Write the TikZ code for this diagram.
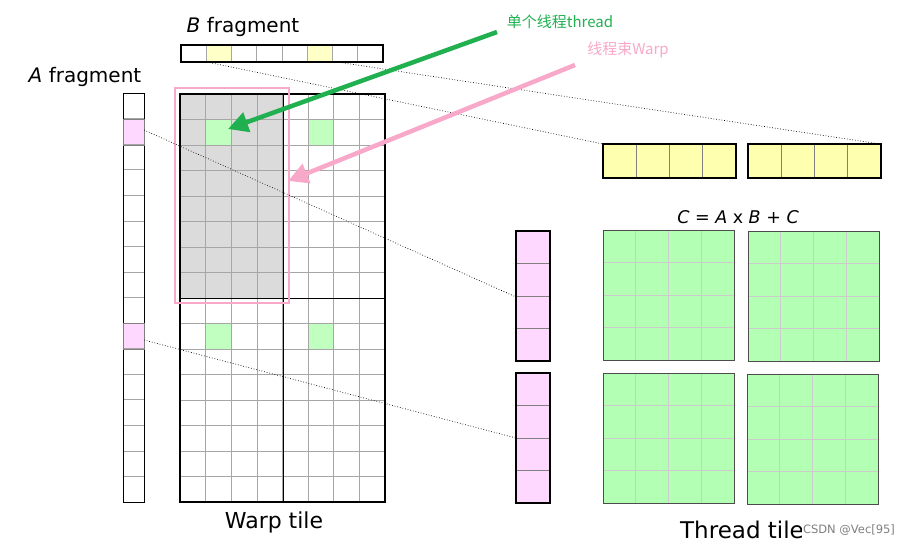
\documentclass[tikz,border=0pt]{standalone}
\usepackage{fontspec}
\usetikzlibrary{arrows.meta}
\setmainfont{DejaVu Sans}
\newfontfamily\cjk{Noto Sans CJK SC}
\begin{document}
\begin{tikzpicture}[x=1pt,y=-1pt,
  cellline/.style={draw=gray!70,line width=0.6pt},
  lbl/.style={inner sep=0pt,font=\fontsize{20}{22}\selectfont},
  dots/.style={dotted,line width=0.7pt},
  bigarrow/.style={line width=4.5pt,-{Triangle[length=20pt,width=20pt]}}]
\useasboundingbox (0,0) rectangle (909,547);
\definecolor{yel}{HTML}{FFFFC8}
\definecolor{yel2}{HTML}{FFFFB0}
\definecolor{pnk}{HTML}{FFD8FF}
\definecolor{grn}{HTML}{C0FFC0}
\definecolor{grn2}{HTML}{B3FFB3}
\definecolor{pinkline}{HTML}{F8A8C8}
\definecolor{grline}{HTML}{20B050}
% B fragment
\fill[yel] (206.25,45) rectangle (231.5,62);
\fill[yel] (307.25,45) rectangle (332.5,62);
\foreach \i in {1,...,7} \draw[cellline] (181+\i*25.25,45) -- (181+\i*25.25,62);
\draw[line width=1.2pt] (181,45) rectangle (383,62);
\node[lbl] (bl) at (243,27) {\textit{B} fragment};
% A fragment
\fill[pnk] (123,119.6) rectangle (144,145.2);
\fill[pnk] (123,323.4) rectangle (144,349);
\foreach \i in {1,...,15} \draw[cellline] (123,93+\i*25.56) -- (144,93+\i*25.56);
\draw[line width=1pt] (123,93) rectangle (144,502);
\draw[gray,line width=0.8pt] (123,119.6) rectangle (144,145.2);
\draw[gray,line width=0.8pt] (123,323.4) rectangle (144,349);
\node[lbl] (al) at (85,77) {\textit{A} fragment};
% Warp tile
\fill[gray!28] (180,94) rectangle (283,298);
\foreach \c/\r in {1/1,5/1,1/9,5/9}
  \fill[grn] (180+\c*25.6,94+\r*25.5) rectangle (180+\c*25.6+25.6,94+\r*25.5+25.5);
\foreach \i in {1,...,7} \draw[cellline] (180+\i*25.6,94) -- (180+\i*25.6,502);
\foreach \i in {1,...,15} \draw[cellline] (180,94+\i*25.5) -- (385,94+\i*25.5);
\draw[line width=1pt] (283,94) -- (283,502) (180,298) -- (385,298);
\draw[line width=1.5pt] (180,94) rectangle (385,502);
\draw[pinkline,line width=1.2pt] (175,88) rectangle (289,303);
\node[lbl,font=\fontsize{22}{24}\selectfont] (wt) at (274,522) {Warp tile};
% dotted connectors
\coordinate (b1) at (207,62); \coordinate (b2) at (337,62);
\coordinate (y1) at (603,144); \coordinate (y2) at (880,144);
\coordinate (a1) at (144,130); \coordinate (a2) at (144,340);
\coordinate (p1) at (516,297); \coordinate (p2) at (516,438);
\draw[dots] (b1) -- (y1); \draw[dots] (b2) -- (y2);
\draw[dots] (a1) -- (p1); \draw[dots] (a2) -- (p2);
% yellow strips
\foreach \x in {603,748}{
  \fill[yel2] (\x,144) rectangle (\x+133,178);
  \foreach \i in {1,2,3} \draw[gray,line width=1pt] (\x+\i*33.25,144) -- (\x+\i*33.25,178);
  \draw[line width=1.5pt] (\x,144) rectangle (\x+133,178);}
% pink columns
\foreach \y in {231,373}{
  \fill[pnk] (516,\y) rectangle (550,\y+130);
  \foreach \i in {1,2,3} \draw[gray,line width=1pt] (516,\y+\i*32.5) -- (550,\y+\i*32.5);
  \draw[line width=1.5pt] (516,\y) rectangle (550,\y+130);}
% green grids
\foreach \x/\y in {603/230,748/231,603/373,747/374}{
  \fill[grn2] (\x,\y) rectangle (\x+131,\y+130);
  \foreach \i in {1,2,3} \draw[gray!40,line width=0.8pt] (\x+\i*32.75,\y) -- (\x+\i*32.75,\y+130) (\x,\y+\i*32.5) -- (\x+131,\y+\i*32.5);
  \draw[gray!60!black,line width=0.8pt] (\x,\y) rectangle (\x+131,\y+130);}
\node[lbl,font=\fontsize{17.5}{19}\selectfont] (eq) at (738,217) {\textit{C} = \textit{A} x \textit{B} + \textit{C}};
\node[lbl,font=\fontsize{23}{25}\selectfont] (tt) at (742,530) {Thread tile};
\node[lbl,font=\fontsize{11.5}{13}\selectfont,text=gray,fill=white,inner sep=1pt] (cs) at (849,530) {CSDN @Vec[95]};
% arrows
\node[lbl,font=\fontsize{15}{17}\selectfont\cjk,text=grline] (th) at (560,22) {单个线程thread};
\node[lbl,font=\fontsize{15}{17}\selectfont\cjk,text=pinkline] (wp) at (628,50) {线程束Warp};
\coordinate (g0) at (497,32); \coordinate (g1) at (228,129);
\coordinate (k0) at (575,65); \coordinate (k1) at (288,181);
\draw[grline,bigarrow] (g0) -- (g1);
\draw[pinkline,bigarrow] (k0) -- (k1);
\end{tikzpicture}
\end{document}
